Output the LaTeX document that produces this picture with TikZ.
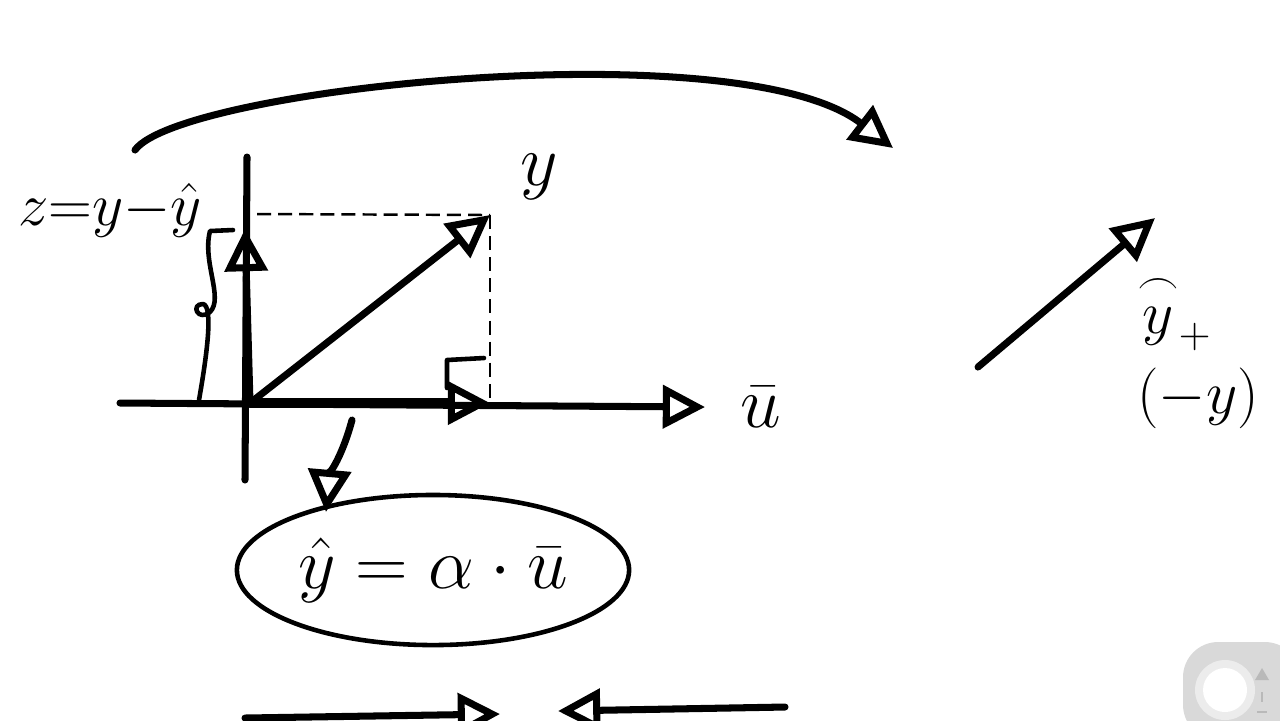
\documentclass[tikz,border=0pt]{standalone}
\usepackage{amsmath}
\usetikzlibrary{positioning, arrows.meta, shapes.geometric}

\begin{document}
\begin{tikzpicture}[x=0.01cm, y=-0.01cm, every node/.style={font=\fontsize{21}{25}\selectfont, inner sep=0pt}]

  \tikzstyle{ink}=[line width=2pt, line cap=round, line join=round]
  \tikzstyle{thin ink}=[line width=1.3pt, line cap=round, line join=round]
  \tikzstyle{vec}=[ink, -{Triangle[open, length=12pt, width=12pt, line width=2pt]}]
  \tikzstyle{guide}=[line width=0.7pt, dash pattern=on 4pt off 2pt]
  \tikzstyle{bubble}=[ellipse, draw, thin ink, minimum width=3.92cm, minimum height=1.5cm]
  \tikzstyle{small}=[font=\fontsize{18}{22}\selectfont]

  \useasboundingbox (0,0) rectangle (1280,720);

  % axes and points
  \coordinate (O) at (250,403);
  \coordinate (x-start) at (120,403);
  \coordinate (x-end) at (705,407);
  \coordinate (v-bot) at (245,480);
  \coordinate (v-top) at (247,157);
  \coordinate (y-tip) at (490,215);
  \coordinate (yhat-tip) at (490,403);
  \coordinate (z-tip) at (245,229);
  \coordinate (dash-left) at (257,214);

  \draw [ink] (v-bot) -- (v-top);
  \draw [vec] (x-start) -- (x-end);
  \draw [vec] (O) -- (y-tip);
  \draw [vec, line width=3pt] (O) -- (yhat-tip);
  \draw [vec] (O) -- (z-tip);

  \draw [guide] (dash-left) -- (y-tip);
  \draw [guide] (y-tip) -- (yhat-tip);
  \draw [thin ink] (447,388) -- (447,360) -- (484,358);

  \node [right=0.35cm of x-end] (u-label) {$\bar{u}$};
  \node [above right=0.15cm and 0.3cm of y-tip] (y-label) {$y$};
  \node [small] (z-label) at (110,210) {$z{=}y{-}\hat{y}$};

  % brace for z
  \draw [thin ink] (233,230) -- (210,231)
    .. controls (202,262) and (224,298) .. (210,312)
    .. controls (198,322) and (190,304) .. (203,304)
    .. controls (214,306) and (206,360) .. (199,400);

  % big curved arrow
  \coordinate (arc-start) at (135,150);
  \coordinate (arc-end) at (893,148);
  \draw [vec] (arc-start) .. controls (180,88) and (740,30) .. (arc-end);

  % y hat formula
  \node [bubble] (eq) at (433,570) {$\hat{y}=\alpha\cdot\bar{u}$};
  \coordinate (hook-start) at (352,420);
  \draw [vec] (hook-start) to[out=-105, in=85] (326,512);

  % right vector
  \coordinate (r-start) at (978,367);
  \coordinate (r-tip) at (1155,218);
  \draw [vec] (r-start) -- (r-tip);
  \node [small] (r-label) at (1175,312) {$\overset{\frown}{y}_{+}$};
  \node [small] (r-note) at (1198,398) {$({-}y)$};

  % bottom arrows
  \coordinate (b-left) at (245,718);
  \coordinate (b-mid) at (500,714);
  \coordinate (b-right) at (785,707);
  \coordinate (b-tip) at (558,711);
  \draw [vec] (b-left) -- (b-mid);
  \draw [vec] (b-right) -- (b-tip);

  % corner widget
  \fill [gray!30, rounded corners=10] (1183,642) rectangle (1300,740);
  \fill [gray!15] (1225,690) circle (30);
  \fill [white] (1225,690) circle (22);
  \fill [gray!55] (1255,680) -- (1269,680) -- (1262,668) -- cycle;
  \draw [gray!55, line width=0.6pt] (1262,692) -- (1262,702);
  \draw [gray!55, line width=0.6pt] (1257,712) -- (1267,712);

\end{tikzpicture}
\end{document}
